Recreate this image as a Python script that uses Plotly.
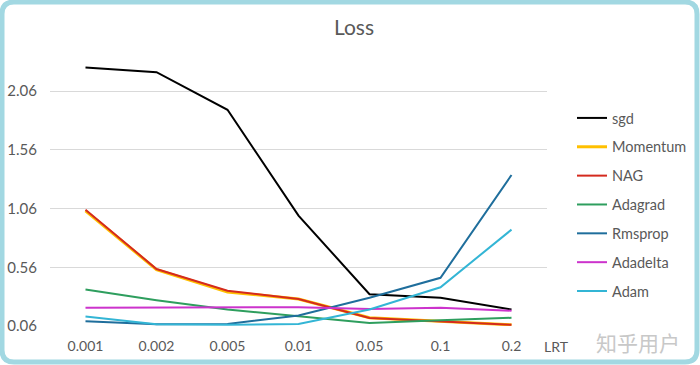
import plotly.graph_objects as go

lrt = ["0.001", "0.002", "0.005", "0.01", "0.05", "0.1", "0.2"]
sgd      = [2.26, 2.22, 1.90, 1.00, 0.33, 0.30, 0.20]
momentum = [1.04, 0.54, 0.35, 0.29, 0.13, 0.10, 0.07]
nag      = [1.05, 0.545, 0.36, 0.29, 0.128, 0.10, 0.07]
adagrad  = [0.37, 0.28, 0.20, 0.14, 0.085, 0.11, 0.13]
rmsprop  = [0.10, 0.075, 0.078, 0.15, 0.30, 0.47, 1.345]
adadelta = [0.215, 0.215, 0.22, 0.22, 0.205, 0.215, 0.19]
adam     = [0.14, 0.074, 0.07, 0.077, 0.20, 0.39, 0.88]
yticks = [0.06, 0.56, 1.06, 1.56, 2.06]

series = [
    ("sgd", sgd, "#000000", 2),
    ("Momentum", momentum, "#FFC000", 3),
    ("NAG", nag, "#D42A1E", 2),
    ("Adagrad", adagrad, "#2E9E5E", 2),
    ("Rmsprop", rmsprop, "#1F6E9C", 2),
    ("Adadelta", adadelta, "#CC33CC", 2),
    ("Adam", adam, "#33B5D5", 2),
]

fig = go.Figure()
for i, (name, vals, color, w) in enumerate(series):
    fig.add_trace(go.Scatter(x=lrt, y=vals, mode="lines", name=name,
                             line=dict(color=color, width=w),
                             legendgroup=name))

L, R, T, B = 50, 547, 40, 326
def px(x): return (x - L) / (R - L)
def py(y): return (B - y) / (B - T)

# rounded border
x0, x1, y0, y1, r = 2, 697, 2, 362, 12
path = (f"M {px(x0+r)},{py(y0)} L {px(x1-r)},{py(y0)} "
        f"Q {px(x1)},{py(y0)} {px(x1)},{py(y0+r)} L {px(x1)},{py(y1-r)} "
        f"Q {px(x1)},{py(y1)} {px(x1-r)},{py(y1)} L {px(x0+r)},{py(y1)} "
        f"Q {px(x0)},{py(y1)} {px(x0)},{py(y1-r)} L {px(x0)},{py(y0+r)} "
        f"Q {px(x0)},{py(y0)} {px(x0+r)},{py(y0)} Z")

fig.update_layout(
    width=700, height=365,
    margin=dict(l=L, r=700 - R, t=T, b=365 - B, autoexpand=False),
    paper_bgcolor="white", plot_bgcolor="white",
    font=dict(family="Lato, Open Sans, sans-serif", color="#595959", size=14),
    title=dict(text="Loss", x=354 / 700, xanchor="center",
               y=1 - 28 / 365, yanchor="middle",
               font=dict(size=21, color="#595959")),
    xaxis=dict(type="category", range=[-0.5, 6.5], showgrid=False,
               showline=False, ticks="", automargin=False,
               ticklabelstandoff=10,
               tickfont=dict(size=14, color="#595959")),
    yaxis=dict(range=[0.06, 0.06 + (B - T) / 117.5], tickvals=yticks,
               ticktext=[f"{v:.2f}" for v in yticks],
               showgrid=True, gridcolor="#d9d9d9", gridwidth=1,
               zeroline=False, showline=False, ticks="", automargin=False,
               ticklabelstandoff=12,
               tickfont=dict(size=15, color="#595959")),
    legend=dict(xref="container", yref="container", x=572 / 700, y=1 - 102 / 365,
                xanchor="left", yanchor="top", maxheight=300,
                bgcolor="rgba(0,0,0,0)", font=dict(size=14.5, color="#595959"),
                tracegroupgap=7, itemwidth=30),
    shapes=[dict(type="path", xref="paper", yref="paper", path=path,
                 line=dict(color="#A2D8E2", width=5), layer="above")],
    annotations=[
        dict(text="LRT", xref="paper", yref="paper", x=px(556), y=py(346),
             xanchor="center", yanchor="middle", showarrow=False,
             font=dict(size=14, color="#595959")),
        dict(text="知乎用户", xref="paper", yref="paper", x=px(638), y=py(342),
             xanchor="center", yanchor="middle", showarrow=False,
             font=dict(family="Noto Sans CJK SC", size=21, color="#c8c8c8")),
    ],
)

fig.write_html("out.html", config={"displayModeBar": False},
               post_script="document.body.style.margin='0';")
